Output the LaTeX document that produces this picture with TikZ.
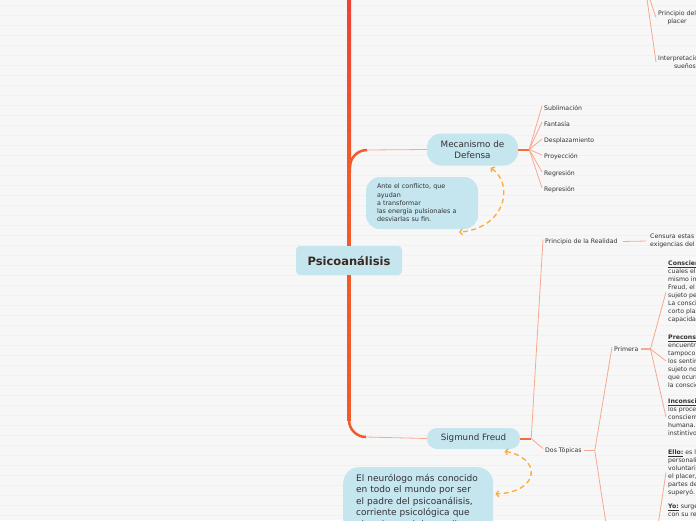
\documentclass[tikz,border=0pt]{standalone}
\usepackage{fontspec}
\setmainfont{DejaVu Sans}
\usetikzlibrary{arrows.meta}
\definecolor{paper}{HTML}{F7F7F7}
\definecolor{stripe}{HTML}{F1F1F1}
\definecolor{bubble}{HTML}{C5E5EF}
\definecolor{ink}{HTML}{333333}
\definecolor{rootink}{HTML}{3A2A20}
\definecolor{trunkred}{HTML}{EF4237}
\definecolor{trunkorange}{HTML}{F15A29}
\definecolor{stubcol}{HTML}{F36D3F}
\definecolor{twig}{HTML}{F7A88E}
\definecolor{linkdash}{HTML}{F9AB3D}
\tikzset{
  topic/.style={fill=bubble, text=ink, align=center, inner sep=0pt},
  leaf/.style={font=\fontsize{6.2}{8}\selectfont, text=ink, anchor=west, inner sep=2pt},
  note/.style={fill=bubble, text=ink, align=left, rounded corners=14pt},
  trunk/.style={trunkorange, line width=4pt},
  trunkcurve/.style={trunkorange, line width=2.5pt},
  stub/.style={stubcol, line width=2pt},
  thinstub/.style={twig, line width=1.4pt},
  twigline/.style={twig, line width=0.8pt},
  relation/.style={linkdash, line width=1.3pt, dash pattern=on 5pt off 3.5pt,
    arrows={Straight Barb[length=2.5pt,width=6pt]-Straight Barb[length=2.5pt,width=6pt]}},
}
\newcommand{\tag}[1]{\underline{\textbf{#1}}}

\begin{document}
\begin{tikzpicture}[x=1pt,y=-1pt]
\useasboundingbox (0,0) rectangle (696,520);
\clip (0,0) rectangle (696,520);
\fill[paper] (0,0) rectangle (696,520);
\foreach \y in {5,15,...,515}
  \draw[stripe, line width=0.6pt] (0,\y) -- (696,\y);

% topics
\node[topic, minimum width=106pt, minimum height=29pt, rounded corners=4pt, text=rootink,
  font=\fontsize{11.5}{13}\selectfont\bfseries] (psico) at (349,260.5) {Psicoanálisis};
\node[topic, minimum width=91pt, minimum height=32pt, rounded corners=14pt,
  font=\fontsize{8.8}{11}\selectfont] (mec) at (472.5,149.5) {Mecanismo de\\Defensa};
\node[topic, minimum width=93pt, minimum height=21pt, rounded corners=10pt,
  font=\fontsize{8.7}{11}\selectfont] (freud) at (473.5,438.5) {Sigmund Freud};
\node[note, text width=90pt, inner xsep=11pt, inner ysep=5pt, minimum height=52pt,
  font=\fontsize{6.4}{8.3}\selectfont] (ante) at (422,203)
  {Ante el conflicto, que\\ayudan\\a transformar\\las energía pulsionales a\\desviarlas su fin.};
\node[note, anchor=north west, text width=124pt, inner xsep=13pt, inner ysep=7pt, rounded corners=16pt,
  font=\fontsize{9}{11.5}\selectfont] (bio) at (343,467)
  {El neurólogo más conocido\\en todo el mundo por ser\\el padre del psicoanálisis,\\corriente psicológica que\\ahonda en el desarrollo};

% leaves
\foreach \n/\t/\y in {sub/Sublimación/108, fan/Fantasía/124, des/Desplazamiento/141,
  pro/Proyección/157, reg/Regresión/174, rep/Represión/190}
  \node[leaf] (\n) at (542,\y) {\t};
\node[leaf] (real) at (543,241.5) {Principio de la Realidad};
\node[leaf, align=left] (censura) at (648,241) {Censura estas pulsiones\\exigencias del Ello};
\node[leaf] (dos) at (543,450.5) {Dos Tópicas};
\node[leaf] (primera) at (612,349) {Primera};
\node[leaf, align=center] (placer) at (656,17.5) {Principio del\\placer};
\node[leaf, align=center] (suenos) at (656,62) {Interpretación de\\sueños};
\node[leaf, align=left] (consc) at (666,292) {\tag{Consciente:} son procesos en los\\cuales el sujeto se da cuenta\\mismo individualmente. Para\\Freud, el consciente es lo que el\\sujeto percibe del mundo.\\La consciencia funciona a\\corto plazo y tiene poca\\capacidad.};
\node[leaf, align=left] (precon) at (666,361) {\tag{Preconsciente:} se\\encuentra entre ambos,\\tampoco es consciente,\\los sentimientos que el\\sujeto no percibe pero\\que ocurren cerca de\\la consciencia.};
\node[leaf, align=left] (incon) at (666,417) {\tag{Inconsciente:} son\\los procesos no\\conscientes de la mente\\humana. Lo reprimido e\\instintivo.};
\node[leaf, align=left] (ello) at (666,472.5) {\tag{Ello:} es la parte de la\\personalidad que\\voluntariamente busca\\el placer, entre las\\partes del yo y el\\superyó.};
\node[leaf, align=left, anchor=north west] (yo) at (666,502) {\tag{Yo:} surge del ello\\con su realidad};

% trunk and branches
\shade[top color=trunkred, bottom color=trunkorange] (347,0) rectangle (351,172);
\draw[trunk] (349,171) -- (psico.north);
\draw[trunk] (psico.south) -- (349,421);
\draw[trunkcurve] (349,420) arc[start angle=180, end angle=90, radius=17] coordinate (freudbend);
\draw[twigline] (freudbend) -- (freud.west);
\draw[trunkcurve] (350,167) arc[start angle=180, end angle=270, radius=17] coordinate (mecbend);
\draw[twigline] (mecbend) -- (mec.west);

\draw[stub] (mec.east) -- ++(11,0) coordinate (mecfan);
\foreach \n in {sub,fan,des,pro,reg,rep}
  \draw[twigline] (mecfan) -- ([yshift=2pt]\n.west);

\draw[stub] (freud.east) -- ++(11,0) coordinate (freudfan);
\draw[twigline] (freudfan) -- ([yshift=2pt]real.west);
\draw[twigline] (freudfan) -- ([yshift=2pt]dos.west);
\draw[twigline, shorten <=3pt, shorten >=2pt] (real.east) -- (censura.west);

\draw[thinstub] (dos.east) -- ++(11,0) coordinate (dosfan);
\draw[twigline] (dosfan) -- ([yshift=2pt]primera.west);
\coordinate (segunda) at (607,530);
\draw[twigline] (dosfan) -- (segunda);
\draw[thinstub] (primera.east) -- ++(10,0) coordinate (primfan);
\foreach \n in {consc,precon,incon}
  \draw[twigline] (primfan) -- (\n.west);
\coordinate (segfan) at (655,545);
\draw[twigline] (segfan) -- (ello.west);
\coordinate (raiz) at (645,-15);
\draw[twigline] (raiz) -- (placer.west);
\draw[twigline] (raiz) -- (suenos.west);

% relations
\draw[relation] ([xshift=18pt,yshift=-2pt]mec.south) .. controls (515,185) and (505,228) .. ([xshift=37pt,yshift=-3pt]ante.south);
\draw[relation] ([xshift=31pt,yshift=-2pt]freud.south) .. controls (542,458) and (540,492) .. ([xshift=2pt,yshift=-27pt]bio.north east);
\end{tikzpicture}
\end{document}
